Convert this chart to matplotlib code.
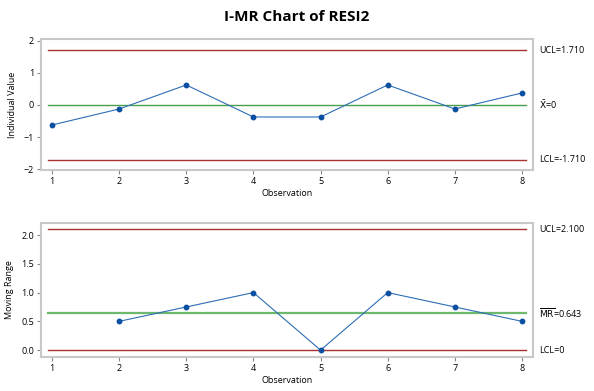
import numpy as np
import matplotlib
matplotlib.use('Agg')
import matplotlib.pyplot as plt

plt.rcParams['font.family'] = ['Open Sans', 'DejaVu Sans']

obs = [1, 2, 3, 4, 5, 6, 7, 8]
indiv = [-0.625, -0.125, 0.625, -0.375, -0.375, 0.625, -0.125, 0.375]
mr_obs = [2, 3, 4, 5, 6, 7, 8]
mr = [0.5, 0.75, 1.0, 0.0, 1.0, 0.75, 0.5]

i_ucl, i_center, i_lcl = 1.710, 0.0, -1.710
mr_ucl, mr_center, mr_lcl = 2.100, 0.643, 0.0

line_col = '#2d6db5'
pt_col = '#0a4fa0'
red = '#a8322d'
green = '#4aa04a'
frame = '#c8c8c8'

fig = plt.figure(figsize=(5.94, 3.91), dpi=100)
ax1 = fig.add_axes([41/594, 1 - 170/391, 492/594, 131/391])
ax2 = fig.add_axes([41/594, 1 - 357/391, 492/594, 134/391])

fig.text(0.5, 1 - 17/391, 'I-MR Chart of RESI2', ha='center', va='center',
         fontsize=11, fontweight='bold')

def style(ax):
    for s in ax.spines.values():
        s.set_color(frame)
        s.set_linewidth(1.5)
    ax.tick_params(axis='both', labelsize=6.5, color='#888888', length=3, width=0.8, pad=2)
    ax.set_xticks(obs)
    ax.set_xlim(0.836, 8.164)

# Individual chart
ax1.axhline(i_ucl, xmin=0.015, xmax=0.985, color=red, lw=1)
ax1.axhline(i_lcl, xmin=0.015, xmax=0.985, color=red, lw=1)
ax1.axhline(i_center, xmin=0.015, xmax=0.985, color=green, lw=1)
ax1.plot(obs, indiv, color=line_col, lw=0.8, marker='o', ms=3.2,
         mfc=pt_col, mec=pt_col)
ax1.set_ylim(-2.03, 2.06)
ax1.set_yticks([-2, -1, 0, 1, 2])
style(ax1)
ax1.set_ylabel('Individual Value', fontsize=6.5, labelpad=5)
ax1.set_xlabel('Observation', fontsize=6.5, labelpad=2)
ax1.text(8.26, i_ucl, 'UCL=1.710', fontsize=6.5, va='center')
ax1.text(8.26, i_center, r'$\bar{\mathrm{X}}$=0', fontsize=6.5, va='center')
ax1.text(8.26, i_lcl, 'LCL=-1.710', fontsize=6.5, va='center')

# Moving range chart
ax2.axhline(mr_ucl, xmin=0.015, xmax=0.985, color=red, lw=1)
ax2.axhline(mr_lcl, xmin=0.015, xmax=0.985, color=red, lw=1)
ax2.axhline(mr_center, xmin=0.015, xmax=0.985, color='#6cb86c', lw=1.6)
ax2.plot(mr_obs, mr, color=line_col, lw=0.8, marker='o', ms=3.2,
         mfc=pt_col, mec=pt_col)
ax2.set_ylim(-0.12, 2.21)
ax2.set_yticks([0.0, 0.5, 1.0, 1.5, 2.0])
ax2.set_yticklabels(['0.0', '0.5', '1.0', '1.5', '2.0'])
style(ax2)
ax2.set_ylabel('Moving Range', fontsize=6.5, labelpad=5)
ax2.set_xlabel('Observation', fontsize=6.5, labelpad=2)
ax2.text(8.26, mr_ucl, 'UCL=2.100', fontsize=6.5, va='center')
ax2.text(8.26, mr_center, r'$\overline{\mathrm{MR}}$=0.643', fontsize=6.5, va='center')
ax2.text(8.26, mr_lcl, 'LCL=0', fontsize=6.5, va='center')

fig.savefig('out.png', dpi=100)
